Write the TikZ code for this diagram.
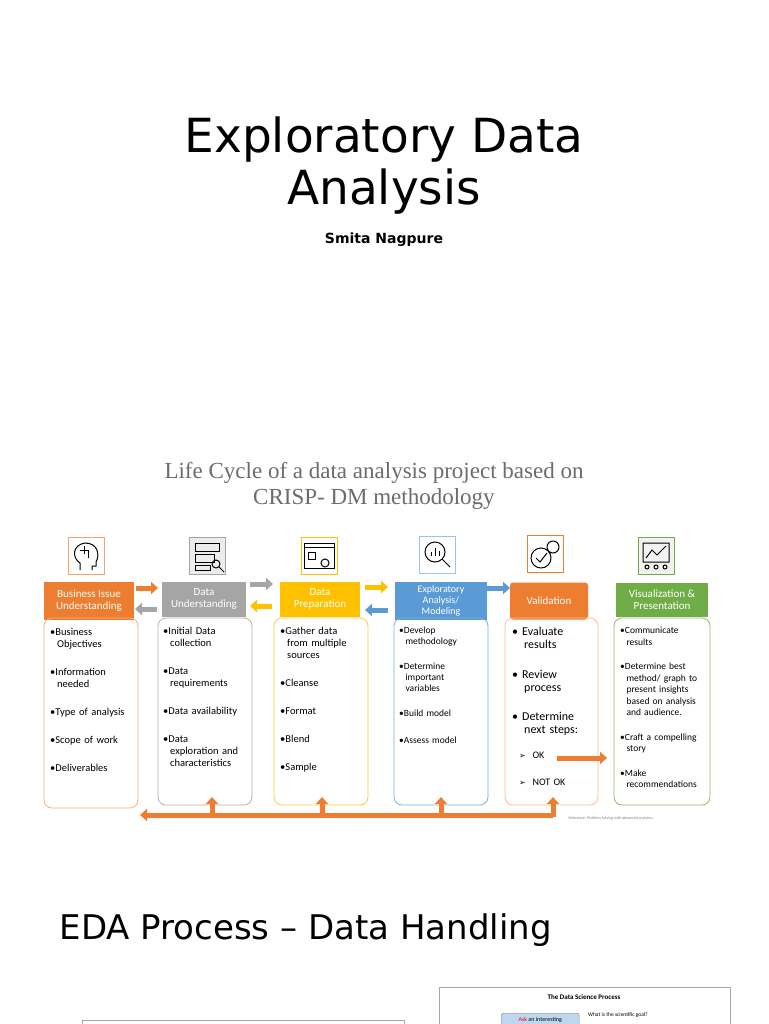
\documentclass[tikz,border=0pt]{standalone}
\usepackage{fontspec}
\setmainfont{Carlito}
\newfontfamily\titlef{DejaVu Sans}
\newfontfamily\serf{Liberation Serif}
\usetikzlibrary{arrows.meta,calc}
\definecolor{cor}{HTML}{ED7D31}
\definecolor{cgr}{HTML}{A5A5A5}
\definecolor{cye}{HTML}{FFC000}
\definecolor{cbl}{HTML}{5B9BD5}
\definecolor{cgn}{HTML}{70AD47}
\tikzset{
 hdr/.style={fill=#1,text=white,align=center,font=\fontsize{11}{12}\selectfont,inner sep=1pt},
 body/.style={draw=#1,rounded corners=8pt,line width=0.8pt},
 btxt/.style={anchor=north west,align=left,font=\fontsize{10.5}{12}\selectfont,text width=88pt,inner sep=0pt},
 icon/.style={draw=#1,line width=1pt,minimum width=36pt,minimum height=37pt,inner sep=0pt},
 fat/.style={-{Triangle[length=7pt,width=12pt]},line width=5pt,#1},
}
\begin{document}
\begin{tikzpicture}[x=1pt,y=-1pt]
\useasboundingbox[fill=white] (0,0) rectangle (768,1024);
\node[font=\titlef\fontsize{47}{52}\selectfont] (t1) at (384,140) {Exploratory Data};
\node[font=\titlef\fontsize{47}{52}\selectfont] (t2) at (384,192) {Analysis};
\node[font=\titlef\bfseries\fontsize{14}{16}\selectfont] (au) at (384,240) {Smita Nagpure};
\node[font=\serf\fontsize{23}{26}\selectfont,text=gray!85!black,align=center] (lc) at (374,486) {Life Cycle of a data analysis project based on\\CRISP- DM methodology};
% icons
\node[icon=cor!70] (i1) at (86,556) {};
\node[icon=cgr,fill=gray!15] (i2) at (207,556) {};
\node[icon=cye] (i3) at (319,556) {};
\node[icon=cbl!60] (i4) at (437,555) {};
\node[icon=cor] (i5) at (545,554) {};
\node[icon=cgn,fill=gray!10] (i6) at (656,556) {};
% icon glyphs
\draw[line width=1pt] (80,570) -- (80,563) .. controls (72,558) and (72,545) .. (85,543) .. controls (98,543) and (100,555) .. (96,562) -- (96,566) -- (92,566) -- (92,570);
\draw[line width=0.8pt] (80,550) -- (88,550) -- (88,558) (84,546) -- (84,554);
\draw[line width=1pt] (195,543) rectangle (219,551) (195,554) rectangle (214,562) (195,565) rectangle (210,570);
\draw[line width=1pt] (216,564) circle (4) (219,567)--(224,572);
\draw[line width=1pt] (304,543) rectangle (334,568) (304,547)--(334,547) (308,552) rectangle (315,559);
\draw[line width=1pt] (325,563) circle (4);
\draw[line width=1pt] (435,552) circle (10) (442,559)--(450,567);
\draw[line width=1pt] (431,556)--(431,552) (435,556)--(435,548) (439,556)--(439,551);
\draw[line width=1pt] (541,558) circle (10) (553,547) circle (6);
\draw[line width=1pt] (536,558)--(540,562)--(547,553);
\draw[line width=1pt] (643,543) rectangle (669,562) (646,558)--(652,550)--(657,555)--(666,546);
\foreach \x in {647,656,665} \draw[line width=1pt] (\x,567) circle (2);
% headers
\node[hdr=cor,minimum width=90pt,minimum height=38pt] (h1) at (89,601) {Business Issue\\Understanding};
\node[hdr=cgr,minimum width=84pt,minimum height=35pt] (h2) at (204,599) {Data\\Understanding};
\node[hdr=cye,minimum width=80pt,minimum height=35pt] (h3) at (320,599) {Data\\Preparation};
\node[hdr=cbl,minimum width=92pt,minimum height=38pt,font=\fontsize{10}{11}\selectfont] (h4) at (441,601) {Exploratory\\Analysis/\\Modeling};
\node[hdr=cor,minimum width=78pt,minimum height=37pt,rounded corners=3pt] (h5) at (549,601) {Validation};
\node[hdr=cgn,minimum width=92pt,minimum height=34pt] (h6) at (662,600) {Visualization \&\\Presentation};
% bodies
\draw[body=cor!60] (44,618) rectangle (138,808);
\draw[body=gray!60] (158,618) rectangle (252,805);
\draw[body=cye!80] (274,618) rectangle (368,805);
\draw[body=cbl!80] (394,618) rectangle (488,805);
\draw[body=cor!50] (505,618) rectangle (598,805);
\draw[body=cgn!80] (614,618) rectangle (710,805);
\node[btxt] (b1) at (50,628) {•Business\\\ \ Objectives\\[16pt]•Information\\\ \ needed\\[16pt]•Type of analysis\\[16pt]•Scope of work\\[16pt]•Deliverables};
\node[btxt] (b2) at (163,627) {•Initial Data\\\ \ collection\\[16pt]•Data\\\ \ requirements\\[16pt]•Data availability\\[16pt]•Data\\\ \ exploration and\\\ \ characteristics};
\node[btxt] (b3) at (280,627) {•Gather data\\\ \ from multiple\\\ \ sources\\[16pt]•Cleanse\\[16pt]•Format\\[16pt]•Blend\\[16pt]•Sample};
\node[btxt,font=\fontsize{9.5}{11}\selectfont] (b4) at (399,627) {•Develop\\\ \ methodology\\[14pt]•Determine\\\ \ important\\\ \ variables\\[14pt]•Build model\\[16pt]•Assess model};
\node[btxt,font=\fontsize{12}{12.5}\selectfont] (b5) at (512,627) {•\ Evaluate\\\ \ \ results\\[18pt]•\ Review\\\ \ \ process\\[17pt]•\ Determine\\\ \ \ next steps:};
\node[btxt,font=\fontsize{10}{11}\selectfont] (ok) at (519,752) {{\titlef\fontsize{8}{9}\selectfont ➢}\ \ OK};
\node[btxt,font=\fontsize{10}{11}\selectfont] (nok) at (519,779) {{\titlef\fontsize{8}{9}\selectfont ➢}\ \ NOT OK};
\node[btxt,font=\fontsize{9.5}{11.5}\selectfont] (b6) at (620,627) {•Communicate\\\ \ results\\[13pt]•Determine best\\\ \ method/ graph to\\\ \ present insights\\\ \ based on analysis\\\ \ and audience.\\[13pt]•Craft a compelling\\\ \ story\\[13pt]•Make\\\ \ recommendations};
% arrows between headers
\draw[fat=cor] (136,588) -- (158,588);
\draw[fat=cgr] (157,609) -- (135,609);
\draw[fat=cgr] (250,584) -- (273,584);
\draw[fat=cye] (272,606) -- (250,606);
\draw[fat=cye] (365,587) -- (388,587);
\draw[fat=cbl] (388,610) -- (365,610);
\draw[fat=cbl] (487,588) -- (510,588);
\draw[fat=cor] (557,758) -- (607,758);
% feedback arrow
\coordinate (fe) at (553,815);
\coordinate (fs) at (140,815);
\draw[fat=cor] (fe) -- (fs);
\foreach \x in {212,322,441,553} \draw[fat=cor] (\x,817) -- (\x,797);
\node[font=\fontsize{4}{5}\selectfont,text=gray,anchor=west] (ref) at (565,818) {Reference: Problem Solving with advanced analytics};
% lower
\node[font=\titlef\fontsize{34}{38}\selectfont,anchor=west] (eda) at (56,930) {EDA Process – Data Handling};
\draw[gray!70] (82,1020) rectangle (404,1030);
\draw[gray!70] (439,987) rectangle (730,1030);
\node[font=\bfseries\fontsize{7}{8}\selectfont] (dsp) at (584,997) {The Data Science Process};
\node[fill=cbl!40,draw=gray,rounded corners=2pt,minimum width=78pt,minimum height=14pt,anchor=north west,font=\fontsize{6}{7}\selectfont] (ask) at (501,1013) {\textcolor{red}{Ask} an interesting};
\node[anchor=north west,font=\fontsize{5.5}{6.5}\selectfont,inner sep=0pt] (sg) at (588,1012) {What is the scientific goal?};
\end{tikzpicture}
\end{document}
